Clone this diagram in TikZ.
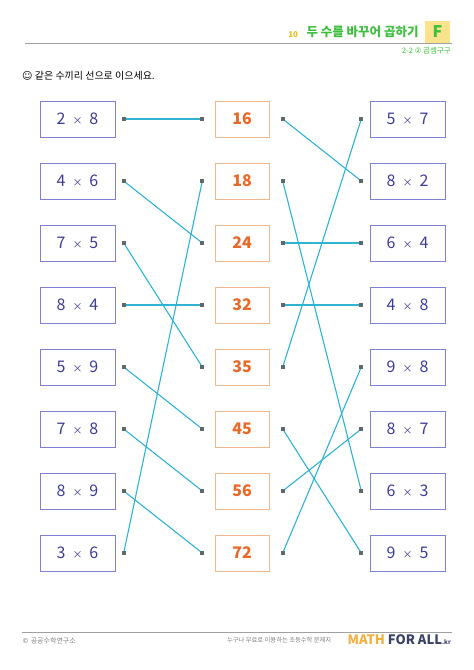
\documentclass[tikz,border=0pt]{standalone}
\usepackage{fontspec}
\setmainfont{Noto Sans CJK KR}
\newfontfamily\symfont{DejaVu Sans}
\usetikzlibrary{positioning,backgrounds}

\definecolor{boxblue}{HTML}{7F80D2}
\definecolor{numblue}{HTML}{3C3C96}
\definecolor{boxorange}{HTML}{F0B890}
\definecolor{numorange}{HTML}{E8692A}
\definecolor{linecyan}{HTML}{30B2D2}
\definecolor{dotgray}{HTML}{5E6A6A}
\definecolor{titlegreen}{HTML}{3DBE3D}
\definecolor{markyellow}{HTML}{E8C022}
\definecolor{fyellow}{HTML}{FBE38E}
\definecolor{rulegray}{HTML}{A0A0A0}
\definecolor{mathorange}{HTML}{F0B040}
\definecolor{allnavy}{HTML}{3A4266}

\newcommand{\mul}[2]{#1\hspace{7pt}{\fontsize{10}{10}\selectfont×}\hspace{7pt}#2}

\begin{document}
\begin{tikzpicture}
  [x=1pt,y=-1pt,
   node distance=25pt and 99pt,
   lbox/.style={draw=boxblue,line width=1pt,minimum width=75pt,minimum height=36pt,
                inner sep=0pt,text=numblue,font=\fontsize{16}{16}\selectfont},
   mbox/.style={draw=boxorange,line width=1pt,minimum width=54pt,minimum height=36pt,
                inner sep=0pt,text=numorange,font=\fontsize{16}{16}\selectfont\bfseries},
   dot/.style={fill=dotgray,minimum size=4pt,inner sep=0pt},
   link/.style={draw=linecyan,line width=1.1pt}]

  \useasboundingbox (0,0) rectangle (474,670);

  % header
  \draw[rulegray,line width=0.8pt] (25,43) -- (452,43);
  \node[fill=fyellow,minimum width=25pt,minimum height=22pt,inner sep=0pt,
        text=titlegreen,font=\fontsize{16}{16}\selectfont\bfseries] (mark) at (437.5,32) {F};
  \node[left=6pt of mark,inner sep=0pt,text=titlegreen,
        font=\fontsize{12.5}{12.5}\selectfont\bfseries] (title) {두 수를 바꾸어 곱하기};
  \node[anchor=east,inner sep=0pt,text=markyellow,
        font=\fontsize{8}{8}\selectfont\bfseries] (unit) at ([xshift=-8pt,yshift=-3pt]title.west) {10};
  \node[anchor=east,inner sep=0pt,text=titlegreen,font=\fontsize{7.5}{7.5}\selectfont]
        (sub) at (451,51) {2-2 {\symfont②} 곱셈구구};
  \node[anchor=west,inner sep=0pt,font=\fontsize{10}{10}\selectfont] (task) at (22,76)
        {{\symfont☺} 같은 수끼리 선으로 이으세요.};

  % boxes
  \node[lbox] (l1) at (77.5,119) {\mul{2}{8}};
  \node[lbox] (l2) [below=of l1] {\mul{4}{6}};
  \node[lbox] (l3) [below=of l2] {\mul{7}{5}};
  \node[lbox] (l4) [below=of l3] {\mul{8}{4}};
  \node[lbox] (l5) [below=of l4] {\mul{5}{9}};
  \node[lbox] (l6) [below=of l5] {\mul{7}{8}};
  \node[lbox] (l7) [below=of l6] {\mul{8}{9}};
  \node[lbox] (l8) [below=of l7] {\mul{3}{6}};

  \node[mbox] (m1) [right=of l1] {16};
  \node[mbox] (m2) [below=of m1] {18};
  \node[mbox] (m3) [below=of m2] {24};
  \node[mbox] (m4) [below=of m3] {32};
  \node[mbox] (m5) [below=of m4] {35};
  \node[mbox] (m6) [below=of m5] {45};
  \node[mbox] (m7) [below=of m6] {56};
  \node[mbox] (m8) [below=of m7] {72};

  \node[lbox] (r1) [right=100pt of m1] {\mul{5}{7}};
  \node[lbox] (r2) [below=of r1] {\mul{8}{2}};
  \node[lbox] (r3) [below=of r2] {\mul{6}{4}};
  \node[lbox] (r4) [below=of r3] {\mul{4}{8}};
  \node[lbox] (r5) [below=of r4] {\mul{9}{8}};
  \node[lbox] (r6) [below=of r5] {\mul{8}{7}};
  \node[lbox] (r7) [below=of r6] {\mul{6}{3}};
  \node[lbox] (r8) [below=of r7] {\mul{9}{5}};

  % dots
  \foreach \i in {1,...,8} {
    \node[dot] (l\i o) [right=6pt of l\i] {};
    \node[dot] (m\i i) [left=10pt of m\i] {};
    \node[dot] (m\i o) [right=11pt of m\i] {};
    \node[dot] (r\i i) [left=6pt of r\i] {};
  }

  % connectors
  \begin{scope}[on background layer]
    \draw[link] (l1o.center) -- (m1i.center);
    \draw[link] (l2o.center) -- (m3i.center);
    \draw[link] (l3o.center) -- (m5i.center);
    \draw[link] (l4o.center) -- (m4i.center);
    \draw[link] (l5o.center) -- (m6i.center);
    \draw[link] (l6o.center) -- (m7i.center);
    \draw[link] (l7o.center) -- (m8i.center);
    \draw[link] (l8o.center) -- (m2i.center);

    \draw[link] (m1o.center) -- (r2i.center);
    \draw[link] (m2o.center) -- (r7i.center);
    \draw[link] (m3o.center) -- (r3i.center);
    \draw[link] (m4o.center) -- (r4i.center);
    \draw[link] (m5o.center) -- (r1i.center);
    \draw[link] (m6o.center) -- (r8i.center);
    \draw[link] (m7o.center) -- (r6i.center);
    \draw[link] (m8o.center) -- (r5i.center);
  \end{scope}

  % footer
  \draw[rulegray,line width=0.8pt] (22,632) -- (452,632);
  \node[anchor=west,inner sep=0pt,text=gray,font=\fontsize{7}{7}\selectfont] (copy) at (22,641)
        {{\symfont©} 공공수학연구소};
  \node[anchor=east,inner sep=0pt,font=\fontsize{13}{13}\selectfont\bfseries] (brand) at (451,640)
        {\textcolor{mathorange}{MATH} \textcolor{allnavy}{FOR ALL}\textcolor{allnavy}{\fontsize{6}{6}\selectfont.kr}};
  \node[left=16pt of brand,inner sep=0pt,text=gray,font=\fontsize{6.3}{6.3}\selectfont] (slogan)
        {누구나 무료로 이용하는 초등수학 문제지};
\end{tikzpicture}
\end{document}
